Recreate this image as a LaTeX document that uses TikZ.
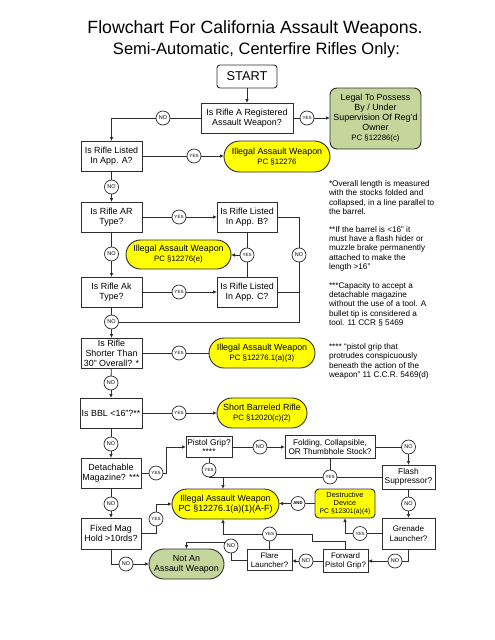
\documentclass[tikz,border=0pt]{standalone}
\usepackage{fontspec}
\setmainfont{Liberation Sans}
\usetikzlibrary{arrows.meta,shapes.misc,calc}
\definecolor{ylw}{RGB}{255,255,0}
\definecolor{grn}{RGB}{196,214,155}
\definecolor{ln}{RGB}{45,45,45}
\newcommand{\pcsz}{\fontsize{7.8}{10}\selectfont}
\begin{document}
\begin{tikzpicture}[x=1pt,y=-1pt,
  every node/.style={inner sep=0pt, outer sep=0pt},
  qbox/.style={draw=ln, line width=0.9pt, fill=white, rectangle, align=center, font=\fontsize{8.9}{10}\selectfont},
  sbox/.style={qbox, font=\fontsize{8.2}{9.5}\selectfont},
  stad/.style={rounded rectangle, draw=ln, line width=0.9pt, fill=ylw, align=center, font=\fontsize{8.9}{10}\selectfont},
  gstad/.style={stad, fill=grn},
  circ/.style={circle, draw=ln, line width=0.7pt, fill=white, minimum size=14pt},
  nob/.style={circ, font=\fontsize{5.5}{5.5}\selectfont},
  yesb/.style={circ, font=\fontsize{4.5}{4.5}\selectfont},
  andb/.style={circ, font=\bfseries\fontsize{4.3}{4.3}\selectfont},
  lnk/.style={draw=ln, line width=0.8pt},
  arr/.style={lnk, -{Latex[length=4pt,width=3.6pt]}},
  note/.style={align=left, font=\fontsize{8.2}{9.3}\selectfont}
]
\useasboundingbox (0,0) rectangle (495,640);

% titles
\node[font=\fontsize{17.7}{20}\selectfont, anchor=base] (title) at (255,33) {Flowchart For California Assault Weapons.};
\node[font=\fontsize{16.5}{19}\selectfont, anchor=base] (sub) at (256.5,54) {Semi-Automatic, Centerfire Rifles Only:};

% main nodes
\node[qbox, rounded corners=3pt, minimum width=60pt, minimum height=23pt, font=\fontsize{12.8}{14}\selectfont] (start) at (247,76.5) {START};
\node[qbox, minimum width=92pt, minimum height=30pt] (reg) at (247,118) {Is Rifle A Registered\\Assault Weapon?};
\node[qbox, rounded corners=7pt, fill=grn, minimum width=91pt, minimum height=61pt] (legal) at (375.5,118.5) {Legal To Possess\\By / Under\\Supervision Of Reg’d\\Owner\\{\pcsz PC §12286(c)}};
\node[qbox, minimum width=61pt, minimum height=30pt] (appA) at (111.5,156) {Is Rifle Listed\\In App. A?};
\node[stad, minimum width=106pt, minimum height=31pt] (ill1) at (277,156.5) {Illegal Assault Weapon\\{\pcsz PC §12276}};
\node[qbox, minimum width=61pt, minimum height=30pt] (ar) at (111.5,217) {Is Rifle AR\\Type?};
\node[qbox, minimum width=60pt, minimum height=30pt] (appB) at (247,217) {Is Rifle Listed\\In App. B?};
\node[stad, minimum width=105pt, minimum height=29pt] (ille) at (178.5,254.5) {Illegal Assault Weapon\\{\pcsz PC §12276(e)}};
\node[qbox, minimum width=61pt, minimum height=30pt] (ak) at (111.5,292) {Is Rifle Ak\\Type?};
\node[qbox, minimum width=60pt, minimum height=30pt] (appC) at (247,292) {Is Rifle Listed\\In App. C?};
\node[qbox, minimum width=61pt, minimum height=30pt] (short) at (111.5,353) {Is Rifle\\Shorter Than\\30” Overall? *};
\node[stad, minimum width=106pt, minimum height=30pt] (ill3) at (262,353) {Illegal Assault Weapon\\{\pcsz PC §12276.1(a)(3)}};
\node[qbox, minimum width=62pt, minimum height=30pt] (bbl) at (111,413) {Is BBL <16”?**};
\node[stad, minimum width=90pt, minimum height=30pt] (sbr) at (262,413) {Short Barreled Rifle\\{\pcsz PC §12020(c)(2)}};
\node[qbox, minimum width=60pt, minimum height=30pt] (det) at (111,473) {Detachable\\Magazine? ***};
\node[qbox, minimum width=46pt, minimum height=21pt, font=\fontsize{8.4}{8.5}\selectfont] (pg) at (209,447) {Pistol Grip?\\****};
\node[sbox, minimum width=90pt, minimum height=23pt] (fold) at (330,447) {Folding, Collapsible,\\OR Thumbhole Stock?};
\node[qbox, minimum width=53pt, minimum height=24pt, font=\fontsize{8.4}{9.5}\selectfont] (flash) at (408.5,477) {Flash\\Suppressor?};
\node[qbox, minimum width=60pt, minimum height=31pt] (fixed) at (111,533.5) {Fixed Mag\\Hold >10rds?};
\node[stad, minimum width=107pt, minimum height=30pt] (illaf) at (225.5,504) {Illegal Assault Weapon\\PC §12276.1(a)(1)(A-F)};
\node[qbox, rounded corners=4pt, fill=ylw, minimum width=60pt, minimum height=29pt, font=\fontsize{7.4}{8}\selectfont] (dest) at (345,503.5) {Destructive\\Device\\{\fontsize{6.8}{8}\selectfont PC §12301(a)(4)}};
\node[qbox, minimum width=53pt, minimum height=31pt, font=\fontsize{8}{10}\selectfont] (gren) at (408.5,533.5) {Grenade\\Launcher?};
\node[qbox, minimum width=45pt, minimum height=23pt, font=\fontsize{7.9}{9}\selectfont] (fwd) at (345.5,561) {Forward\\Pistol Grip?};
\node[qbox, minimum width=45pt, minimum height=21pt, font=\fontsize{7.9}{9}\selectfont] (flare) at (269.5,560) {Flare\\Launcher?};
\node[gstad, minimum width=75pt, minimum height=30pt] (notan) at (186.5,564) {Not An\\Assault Weapon};

% decision circles
\node[nob] (c1) at (163,118) {NO};
\node[yesb] (c2) at (307,118) {YES};
\node[yesb] (c3) at (194,156) {YES};
\node[nob] (c4) at (111.5,187) {NO};
\node[yesb] (c5) at (179,217) {YES};
\node[yesb] (c6) at (247,255) {YES};
\node[nob] (c7) at (299,255) {NO};
\node[nob] (c8) at (111.5,254) {NO};
\node[yesb] (c9) at (179,292) {YES};
\node[nob] (c10) at (111.5,322) {NO};
\node[yesb] (c11) at (179,353) {YES};
\node[nob] (c12) at (111,383) {NO};
\node[yesb] (c13) at (179,413) {YES};
\node[nob] (c14) at (111,444) {NO};
\node[yesb] (c15) at (156,473) {YES};
\node[nob] (c16) at (111,504) {NO};
\node[yesb] (c17) at (156,519) {YES};
\node[yesb] (c18) at (209,470) {YES};
\node[nob] (c19) at (260,447) {NO};
\node[yesb] (c20) at (330,477) {YES};
\node[nob] (c21) at (408.5,447) {NO};
\node[nob] (c22) at (408.5,504) {NO};
\node[andb] (c23) at (298,503.5) {AND};
\node[yesb] (c24) at (360,533.5) {YES};
\node[nob] (c25) at (395,561) {NO};
\node[nob] (c26) at (306,561) {NO};
\node[yesb] (c27) at (269.5,534) {YES};
\node[nob] (c28) at (231,546) {NO};
\node[nob] (c29) at (126,564) {NO};

\coordinate (j2) at (223,477);
\coordinate (j3) at (312,541);

% connectors
\draw[arr] (start) -- (reg);
\draw[lnk] (reg) -- (c1);
\draw[arr] (c1) -| (appA);
\draw[lnk] (reg) -- (c2);
\draw[arr] (c2) -- (c2 -| legal.west);
\draw[lnk] (appA) -- (c3);
\draw[arr] (c3) -- (c3 -| ill1.west);
\draw[lnk] (appA) -- (c4);
\draw[arr] (c4) -- (ar);
\draw[lnk] (ar) -- (c5);
\draw[arr] (c5) -- (appB);
\draw[lnk] (appB) -- (c6);
\draw[lnk] (appC) -- (c6);
\draw[arr] (c6) -- (c6 -| ille.east);
\draw[lnk] (appB.east) -| (c7);
\draw[lnk] (c7) |- (c10);
\draw[lnk] (appC.east) -- (appC.east -| c7);
\draw[lnk] (ar) -- (c8);
\draw[arr] (c8) -- (ak);
\draw[lnk] (ak) -- (c9);
\draw[arr] (c9) -- (appC);
\draw[lnk] (ak) -- (c10);
\draw[arr] (c10) -- (short);
\draw[lnk] (short) -- (c11);
\draw[lnk] (c11) -- (c11 -| ill3.west);
\draw[lnk] (short) -- (c12);
\draw[arr] (c12) -- (bbl);
\draw[lnk] (bbl) -- (c13);
\draw[arr] (c13) -- (sbr);
\draw[lnk] (bbl) -- (c14);
\draw[arr] (c14) -- (det);
\draw[lnk] (det) -- (c15);
\draw[arr] (c15.east) -- ++(3,0) |- (pg.west);
\draw[lnk] (det) -- (c16);
\draw[arr] (c16) -- (fixed);
\draw[lnk] (fixed.east) -| (c17);
\draw[arr] (c17) |- (illaf.west);
\draw[lnk] (pg) -- (c18);
\draw[lnk] (c18) |- (j2);
\draw[arr] (j2) -- (j2 |- illaf.north);
\draw[lnk] (c20) -- (j2);
\draw[lnk] (fold) -- (c20);
\draw[lnk] (flash) -- (c20);
\draw[lnk] (pg) -- (c19);
\draw[arr] (c19) -- (fold);
\draw[lnk] (fold) -- (c21);
\draw[arr] (c21) -- (flash);
\draw[lnk] (flash) -- (c22);
\draw[arr] (c22) -- (gren);
\draw[lnk] (dest) -- (c23);
\draw[arr] (c23) -- (c23 -| illaf.east);
\draw[lnk] (gren) -- (c24);
\draw[arr] (c24) -| (dest);
\draw[lnk] (gren) |- (c25);
\draw[arr] (c25) -- (fwd);
\draw[lnk] (fwd) -- (c26);
\draw[arr] (c26) -- (c26 -| flare.east);
\draw[lnk] (fwd.north) |- (j3) |- (c27);
\draw[lnk] (flare) -- (c27);
\draw[arr] (c27) -| ([xshift=-2.5pt]illaf.south);
\draw[lnk] (flare) -| (c28);
\draw[arr] (c28.150) -| (notan);
\draw[lnk] (fixed) |- (c29);
\draw[arr] (c29) -- (notan);

% footnotes (base anchor = last line baseline)
\node[note, anchor=base west] (n1) at (329,214.4) {*Overall length is measured\\with the stocks folded and\\collapsed, in a line parallel to\\the barrel.};
\node[note, anchor=base west] (n2) at (329,269.5) {**If the barrel is <16” it\\must have a flash hider or\\muzzle brake permanently\\attached to make the\\length >16”};
\node[note, anchor=base west] (n3) at (329,325.5) {***Capacity to accept a\\detachable magazine\\without the use of a tool. A\\bullet tip is considered a\\tool. 11 CCR § 5469};
\node[note, anchor=base west] (n4) at (329,377.3) {**** “pistol grip that\\protrudes conspicuously\\beneath the action of the\\weapon” 11 C.C.R. 5469(d)};
\end{tikzpicture}
\end{document}
